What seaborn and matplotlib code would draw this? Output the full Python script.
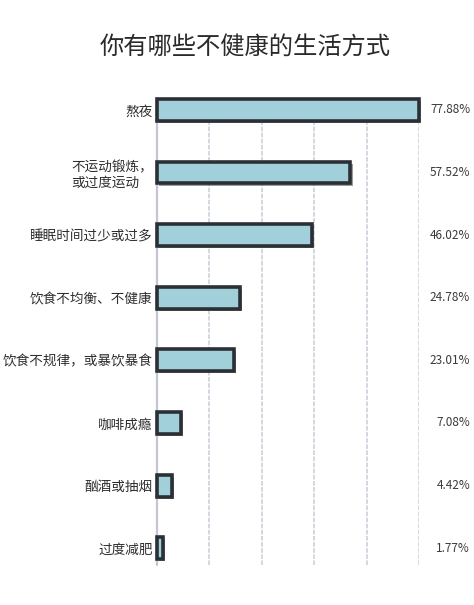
import matplotlib
matplotlib.use("Agg")
import matplotlib.pyplot as plt
import matplotlib.patheffects as pe
import matplotlib.transforms as mtransforms
import seaborn as sns
import numpy as np
import pandas as pd

# data
habits = ["熬夜", "不运动锻炼，\n或过度运动", "睡眠时间过少或过多", "饮食不均衡、不健康",
          "饮食不规律，或暴饮暴食", "咖啡成瘾", "酗酒或抽烟", "过度减肥"]
shares = [77.88, 57.52, 46.02, 24.78, 23.01, 7.08, 4.42, 1.77]

df = pd.DataFrame({"habit": habits, "share": shares})

sns.set_theme(style="white")
plt.rcParams["font.family"] = ["Noto Sans CJK SC", "DejaVu Sans"]

fig = plt.figure(figsize=(4.74, 6.05), dpi=100)
ax = fig.add_axes([0.331, 0.066, 0.553, 0.772])

sns.barplot(data=df, x="share", y="habit", orient="h", ax=ax,
            color="#a2d0da", edgecolor="#2b3035", linewidth=2.6, width=0.35,
            saturation=1, zorder=3)
for bar in ax.patches:
    bar.set_clip_on(False)
    bar.set_path_effects([pe.SimplePatchShadow(offset=(1.5, -1.5), shadow_rgbFace="#55595c", alpha=0.6),
                          pe.Normal()])

# light vertical guides
ax.set_xlim(0, max(shares))
ax.set_ylim(7.27, -0.19)
ax.set_xticks(np.linspace(0, max(shares), 6))
ax.xaxis.grid(True, color="#c9cbd8", linewidth=1.1, linestyle=(0, (3, 1)), zorder=0)
ax.axvline(0, color="#c4c6d4", linewidth=1.6, zorder=1, clip_on=False)
ax.set_xticklabels([])
ax.tick_params(axis="x", length=0)
ax.tick_params(axis="y", length=0, pad=3, labelsize=9.8, labelcolor="#2e2e2e")
for lab in ax.get_yticklabels():
    lab.set_multialignment("left")
for side in ["top", "right", "bottom", "left"]:
    ax.spines[side].set_visible(False)
ax.set_xlabel("")
ax.set_ylabel("")

trans = mtransforms.blended_transform_factory(ax.transAxes, ax.transData)
for i, v in enumerate(shares):
    ax.text(1.195, i, f"{v:.2f}%", transform=trans, ha="right", va="center",
            fontsize=8.5, color="#3a3a3a")

fig.text(0.518, 0.922, "你有哪些不健康的生活方式", ha="center", va="center",
         fontsize=17.5, color="#2a2a2a")

fig.savefig("out.png", dpi=100, facecolor="white")
